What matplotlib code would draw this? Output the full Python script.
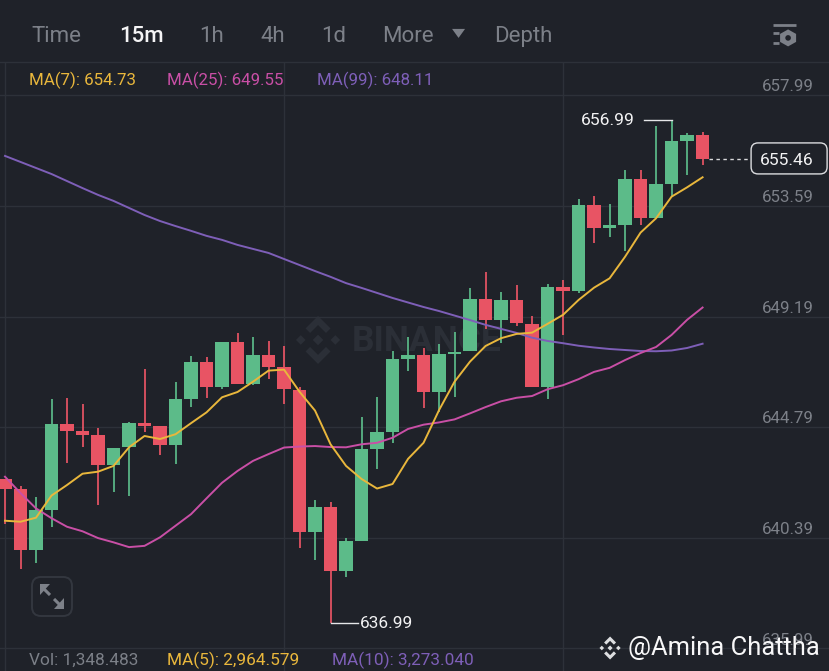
import matplotlib
matplotlib.use("Agg")
import matplotlib.pyplot as plt
from matplotlib.patches import FancyBboxPatch, Polygon
import numpy as np

plt.rcParams['font.family'] = ['Roboto', 'DejaVu Sans']

# ---- data -------------------------------------------------------------
opens = [642.72,642.33,639.91,641.51,644.93,644.63,644.46,643.30,643.99,644.96,
         644.85,644.08,645.90,647.40,646.38,648.18,646.50,647.65,647.17,646.27,
         640.61,641.63,639.07,640.25,643.91,644.59,647.52,647.68,646.19,647.72,
         647.81,649.89,649.05,649.85,648.91,646.40,650.36,650.20,653.63,652.72,
         652.83,654.65,653.13,654.47,656.16,656.43]
highs = [642.72,642.46,642.00,645.90,645.94,645.70,644.77,643.95,644.99,647.10,
         644.85,646.60,647.62,647.60,648.18,648.55,648.39,648.22,648.00,646.38,
         641.90,641.80,640.40,645.21,645.98,647.82,648.37,647.95,648.10,648.59,
         650.32,650.98,650.16,650.46,649.21,650.50,650.65,653.88,653.99,653.66,
         655.00,655.00,656.77,656.99,656.51,656.52]
lows = [640.93,639.14,639.38,640.81,643.38,644.02,641.71,642.22,642.05,644.59,
        643.70,643.34,645.61,645.97,646.32,646.50,646.46,646.71,645.71,639.97,
        639.51,636.99,638.85,640.25,643.12,644.16,647.02,645.54,645.41,646.00,
        647.81,648.69,648.13,648.81,646.40,645.91,648.47,650.14,652.13,652.37,
        651.80,652.85,653.13,653.96,654.81,655.21]
closes = [642.33,639.91,641.50,644.93,644.63,644.46,643.30,643.95,644.95,644.85,
          644.08,645.90,647.38,646.38,648.18,646.50,647.66,647.17,646.29,640.62,
          641.63,639.07,640.25,643.91,644.59,647.52,647.68,646.19,647.70,647.80,
          649.90,649.04,649.85,648.94,646.40,650.36,650.20,653.63,652.72,652.83,
          654.65,653.13,654.47,656.16,656.43,655.46]
ma7 = [641.07,641.03,641.19,642.07,642.49,642.94,643.02,643.25,643.99,644.44,
       644.32,644.51,644.95,645.38,645.98,646.19,646.60,647.04,647.08,646.20,
       645.45,644.11,643.25,642.73,642.35,642.53,643.53,644.17,645.47,646.60,
       647.40,648.02,648.33,648.50,648.55,648.90,649.26,649.85,650.34,650.71,
       651.57,652.53,653.10,653.96,654.33,654.73]
ma25 = [642.82,642.17,641.56,641.17,640.83,640.65,640.38,640.21,640.02,640.07,
        640.41,640.87,641.33,641.96,642.58,643.05,643.45,643.72,643.98,644.02,
        644.04,644.00,643.99,644.11,644.17,644.37,644.72,644.89,644.98,645.10,
        645.34,645.59,645.82,645.96,646.03,646.30,646.46,646.70,646.99,647.15,
        647.46,647.74,647.98,648.46,649.06,649.55]
ma99 = [655.58,655.34,655.10,654.86,654.58,654.30,654.03,653.79,653.51,653.23,
        652.99,652.79,652.60,652.40,652.24,652.04,651.88,651.72,651.48,651.24,
        651.00,650.77,650.52,650.33,650.13,649.93,649.75,649.57,649.41,649.23,
        649.05,648.86,648.70,648.54,648.35,648.22,648.13,648.03,647.96,647.90,
        647.86,647.82,647.81,647.84,647.94,648.11]
price_ticks = [657.99, 653.59, 649.19, 644.79, 640.39, 635.99]
time_ticks = [0, 18, 36]
tabs = ["Time", "15m", "1h", "4h", "1d", "More", "Depth"]
high_label, low_label, last_price = 656.99, 636.99, 655.46

# ---- style ------------------------------------------------------------
BG = "#1f2229"; GRID = "#2d3139"; UP = "#5cbb89"; DOWN = "#e85464"
C7 = "#e9b73c"; C25 = "#c94fa6"; C99 = "#7e5fb8"
MUTED = "#7c8088"; WM = "#2b2f37"; W = 829; H = 671

fig = plt.figure(figsize=(8.291, 6.711), dpi=100, facecolor=BG)
ax = fig.add_axes([0, 0, 1, 1], facecolor="none", zorder=2)
ov = fig.add_axes([0, 0, 1, 1], facecolor=BG, zorder=1)
top = fig.add_axes([0, 0, 1, 1], facecolor="none", zorder=3)
for a in (ov, top):
    a.set_xlim(0, W); a.set_ylim(H, 0); a.axis("off")

# axis mapping
ax.set_xlim(-5 / 15.5, (W - 5) / 15.5)
ax.set_ylim(661.785 - 0.03978 * H, 661.785)
for s in ax.spines.values():
    s.set_visible(False)
ax.set_xticks(time_ticks); ax.set_yticks(price_ticks)
ax.tick_params(length=0, labelbottom=False, labelleft=False)
ax.grid(True, color=GRID, lw=1.0)
ax.set_axisbelow(True)

# header band hides the grid above its separator
top.fill_between([0, W], 0, 62, color=BG, lw=0, zorder=0)
top.plot([0, W], [62, 62], color=GRID, lw=1.0, zorder=1)

# watermark
def logo(a, cx, cy, s, color, z):
    def d(x, y, r):
        a.add_patch(Polygon([(x-r, y), (x, y-r), (x+r, y), (x, y+r)], color=color, lw=0, zorder=z))
    d(cx, cy, 0.22*s); d(cx-0.72*s, cy, 0.2*s); d(cx+0.72*s, cy, 0.2*s)
    t = 0.27 * s
    a.add_patch(Polygon([(cx, cy-s), (cx+0.52*s, cy-0.48*s), (cx+0.52*s-t*.7, cy-0.48*s+t*.7),
                         (cx, cy-s+t*1.4), (cx-0.52*s+t*.7, cy-0.48*s+t*.7), (cx-0.52*s, cy-0.48*s)],
                        color=color, lw=0, zorder=z))
    a.add_patch(Polygon([(cx, cy+s), (cx+0.52*s, cy+0.48*s), (cx+0.52*s-t*.7, cy+0.48*s-t*.7),
                         (cx, cy+s-t*1.4), (cx-0.52*s+t*.7, cy+0.48*s-t*.7), (cx-0.52*s, cy+0.48*s)],
                        color=color, lw=0, zorder=z))

logo(ov, 318, 340, 24, WM, 3)
ov.text(352, 341, "BINANCE", color=WM, fontsize=25.5, fontweight="bold", va="center", ha="left", zorder=3)

# candles
x = np.arange(len(opens))
o, h, l, c = map(np.array, (opens, highs, lows, closes))
cols = [UP if cl >= op else DOWN for op, cl in zip(o, c)]
ax.vlines(x, l, h, colors=cols, lw=1.25, zorder=3)
ax.bar(x, np.maximum(np.abs(c - o), 0.08), bottom=np.minimum(o, c), width=0.87, color=cols, lw=0, zorder=4)

# moving averages
ax.plot(x, ma99, color=C99, lw=1.4, zorder=5)
ax.plot(x, ma25, color=C25, lw=1.4, zorder=6)
ax.plot(x, ma7, color=C7, lw=1.4, zorder=7)

# high / low / last markers
ax.plot([41.2, 43], [high_label, high_label], color="#e6e7e9", lw=1.0, zorder=5)
ax.plot([21, 22.8], [low_label, low_label], color="#e6e7e9", lw=1.0, zorder=5)
ax.text(40.65, high_label, f"{high_label:.2f}", color="#f2f2f3", fontsize=12.6, ha="right", va="center", zorder=8)
ax.text(22.9, low_label, f"{low_label:.2f}", color="#f2f2f3", fontsize=12.4, ha="left", va="center", zorder=8)
ax.plot([45.4, 48.1], [last_price, last_price], color="#d8d9db", lw=1.0, dashes=(2.5, 2.5), zorder=5)

# price labels
for p in price_ticks:
    ax.annotate(f"{p:.2f}", (814 / W, p), xycoords=("axes fraction", "data"), xytext=(0, 8.5 * .72),
                textcoords="offset points", color=MUTED, fontsize=12.2, ha="right", va="center", zorder=2)
top.add_patch(FancyBboxPatch((751, 143), 76, 31, boxstyle="round,pad=0,rounding_size=7", fc=BG, ec="#dcdde0", lw=1.0, zorder=4))
top.text(787, 160, f"{last_price:.2f}", color="#f2f2f3", fontsize=12.6, ha="center", va="center", zorder=5)

# header tabs
tab_x = [31, 119, 199, 260, 321, 382, 494]
for t, tx in zip(tabs, tab_x):
    top.text(tx, 36, t, color="#f4f4f5" if t == "15m" else MUTED, fontsize=16,
             fontweight="medium" if t == "15m" else "normal", ha="left", va="center", zorder=5)
top.add_patch(Polygon([(452, 29), (465, 29), (458.5, 38)], color=MUTED, lw=0, zorder=5))

# settings icon
for (xa, xb, yy) in [(773, 796, 25.5), (773, 779, 33.5), (773, 779, 43)]:
    top.plot([xa, xb], [yy, yy], color=MUTED, lw=2.0, solid_capstyle="butt", zorder=5)
top.add_patch(Polygon([(788, 29.5), (796, 34), (796, 42), (788, 46.5), (780, 42), (780, 34)], color=MUTED, lw=0, zorder=5))
top.add_patch(plt.Circle((788, 38), 2.8, color=BG, lw=0, zorder=6))

# MA legend
for t, tx, col in [("MA(7): 654.73", 29, C7), ("MA(25): 649.55", 167, C25), ("MA(99): 648.11", 317, C99)]:
    top.text(tx, 80, t, color=col, fontsize=12.2, ha="left", va="center", zorder=5)
for t, tx, col in [("Vol: 1,348.483", 29, MUTED), ("MA(5): 2,964.579", 167, C7), ("MA(10): 3,273.040", 332, C99)]:
    top.text(tx, 660, t, color=col, fontsize=12.4, ha="left", va="center", zorder=5)

# expand icon
ICON = "#7d8189"
top.add_patch(FancyBboxPatch((32, 577), 40, 39, boxstyle="round,pad=0,rounding_size=9", fc="none", ec="#33373f", lw=1.4, zorder=5))
top.plot([43, 50], [588, 595], color=ICON, lw=2.2, solid_capstyle="butt", zorder=5)
top.plot([54, 61], [599, 606], color=ICON, lw=2.2, solid_capstyle="butt", zorder=5)
top.add_patch(Polygon([(40, 584), (50, 584), (40, 595)], color=ICON, lw=0, zorder=5))
top.add_patch(Polygon([(64, 609), (54, 609), (64, 598)], color=ICON, lw=0, zorder=5))

# credit
logo(top, 610, 648, 11.5, "#dddee0", 6)
top.text(628, 648, "@Amina Chattha", color="#f7f7f8", fontsize=18.4, ha="left", va="center", zorder=6)

fig.savefig("out.png", dpi=100, facecolor=BG)
